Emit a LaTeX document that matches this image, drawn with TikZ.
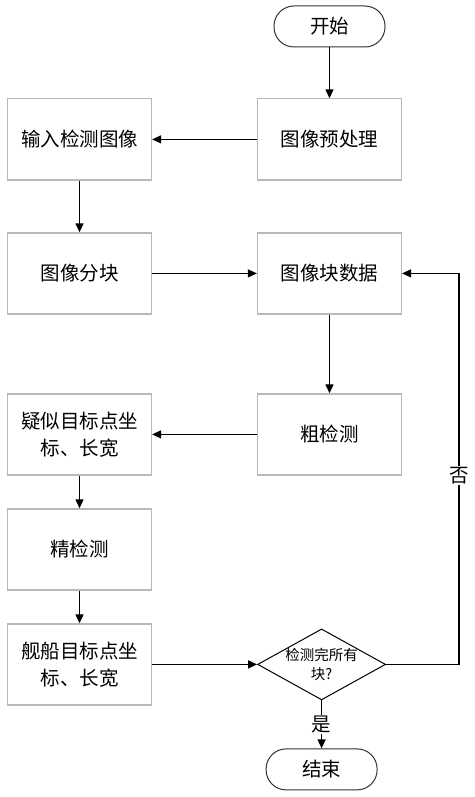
\documentclass[tikz,border=0pt]{standalone}
\usepackage{fontspec}
\setmainfont{Noto Sans CJK SC}
\usepackage{tikz}
\usetikzlibrary{arrows.meta,positioning,calc,shapes.geometric}

\begin{document}
\begin{tikzpicture}[
  font=\fontsize{19.5}{27}\selectfont,
  proc/.style={draw=black!28, line width=1.2pt, minimum width=144pt, minimum height=81pt, align=center, inner sep=2pt},
  term/.style={draw=black!80, line width=1pt, rounded corners=20pt, minimum width=111pt, minimum height=41pt},
  decision/.style={draw, diamond, line width=1pt, minimum width=128pt, minimum height=71pt, inner sep=0pt},
  lbl/.style={fill=white, inner sep=1pt},
  arr/.style={-{Triangle[length=9pt,width=8pt]}, line width=1.3pt}
]
  \useasboundingbox (0,0) rectangle (474pt,-797pt);

  % Start and preprocessing
  \node[term] (start) at (329.5pt,-26.5pt) {开始};
  \node[proc, below=50.8pt of start] (prep) {图像预处理};
  \node[proc, left=104.8pt of prep] (input) {输入检测图像};

  % Splitting into blocks
  \node[proc, below=51.8pt of input] (split) {图像分块};
  \node[proc, right=104.8pt of split] (blockdata) {图像块数据};

  % Coarse detection
  \node[proc, below=78.8pt of blockdata] (coarse) {粗检测};
  \node[proc, left=104.8pt of coarse] (suspect) {疑似目标点坐\\标、长宽};

  % Fine detection
  \node[proc, below=32.8pt of suspect] (fine) {精检测};
  \node[proc, below=32.8pt of fine] (ship) {舰船目标点坐\\标、长宽};

  % Decision and end
  \node[decision, right=105pt of ship,
        label={[align=center, font=\fontsize{14.5}{19}\selectfont]center:检测完所有\\块?}] (check) {};
  \node[term, below=48pt of check] (end) {结束};

  \coordinate (turn) at ($(blockdata.east)+(57pt,0)$);

  % Connectors
  \draw[arr] (start) -- (prep);
  \draw[arr] (prep) -- (input);
  \draw[arr] (input) -- (split);
  \draw[arr] (split) -- (blockdata);
  \draw[arr] (blockdata) -- (coarse);
  \draw[arr] (coarse) -- (suspect);
  \draw[arr] (suspect) -- (fine);
  \draw[arr] (fine) -- (ship);
  \draw[arr] (ship) -- (check);
  \draw[arr] (check) -- node[lbl] (yes) {是} (end);
  \draw[arr] (check.east) -| (turn) -- (blockdata.east);
  \node[lbl] (no) at (turn |- coarse.south) {否};
\end{tikzpicture}
\end{document}
